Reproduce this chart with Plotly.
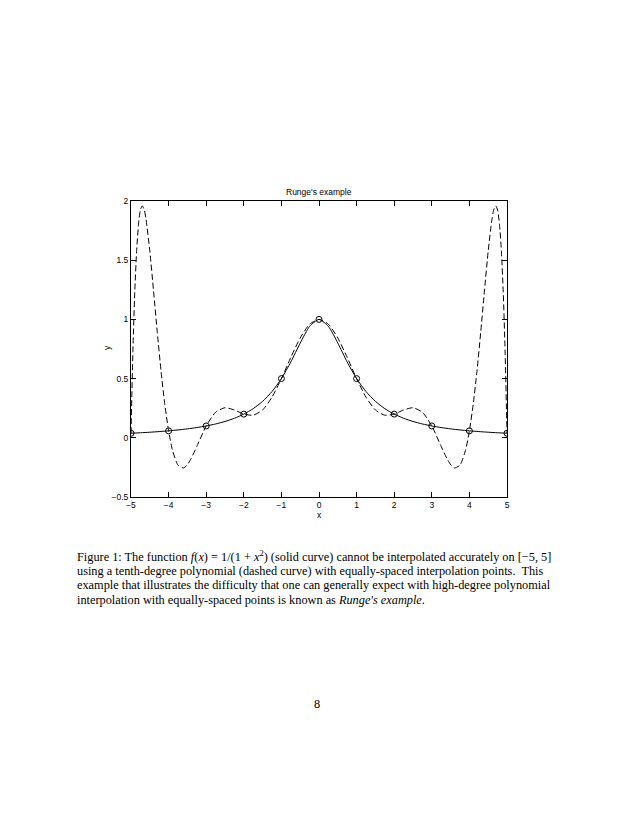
import plotly.graph_objects as go

# values
X_DASH = [-5, -4.95, -4.9, -4.85, -4.8, -4.75, -4.7, -4.65, -4.6, -4.5, -4.4, -4.3, -4.2, -4.1, -4,
          -3.9, -3.75, -3.6, -3.5, -3.4, -3.25, -3, -2.75, -2.5, -2.25, -2, -1.75, -1.5, -1.25, -1,
          -0.75, -0.5, -0.25, 0, 0.25, 0.5, 0.75, 1, 1.25, 1.5, 1.75, 2, 2.25, 2.5, 2.75, 3,
          3.25, 3.4, 3.5, 3.6, 3.75, 3.9, 4, 4.1, 4.2, 4.3, 4.4, 4.5, 4.6, 4.65, 4.7, 4.75, 4.8,
          4.85, 4.9, 4.95, 5]
Y_DASH = [0.038, 0.726, 1.230, 1.581, 1.804, 1.924, 1.959, 1.928, 1.846, 1.579, 1.240, 0.888, 0.560, 0.280, 0.059,
          -0.101, -0.231, -0.255, -0.226, -0.174, -0.073, 0.100, 0.216, 0.254, 0.235, 0.200, 0.191, 0.235, 0.343, 0.500,
          0.679, 0.843, 0.959, 1.000, 0.959, 0.843, 0.679, 0.500, 0.343, 0.235, 0.191, 0.200, 0.235, 0.254, 0.216, 0.100,
          -0.073, -0.174, -0.226, -0.255, -0.231, -0.101, 0.059, 0.280, 0.560, 0.888, 1.240, 1.579, 1.846, 1.928, 1.959, 1.924, 1.804,
          1.581, 1.230, 0.726, 0.038]

X_SOLID = [-5, -4.75, -4.5, -4.25, -4, -3.75, -3.5, -3.25, -3, -2.75, -2.5, -2.25, -2, -1.75, -1.5, -1.25, -1,
           -0.75, -0.5, -0.25, 0, 0.25, 0.5, 0.75, 1, 1.25, 1.5, 1.75, 2, 2.25, 2.5, 2.75, 3, 3.25, 3.5, 3.75,
           4, 4.25, 4.5, 4.75, 5]
Y_SOLID = [0.0385, 0.0424, 0.0471, 0.0525, 0.0588, 0.0664, 0.0755, 0.0865, 0.1, 0.1168, 0.1379, 0.1649, 0.2, 0.2462, 0.3077, 0.3902, 0.5,
           0.64, 0.8, 0.9412, 1.0, 0.9412, 0.8, 0.64, 0.5, 0.3902, 0.3077, 0.2462, 0.2, 0.1649, 0.1379, 0.1168, 0.1, 0.0865, 0.0755, 0.0664,
           0.0588, 0.0525, 0.0471, 0.0424, 0.0385]

X_NODES = [-5, -4, -3, -2, -1, 0, 1, 2, 3, 4, 5]
Y_NODES = [0.0385, 0.0588, 0.1, 0.2, 0.5, 1.0, 0.5, 0.2, 0.1, 0.0588, 0.0385]

CAPTION = [
    "Figure 1: The function <i>f</i>(<i>x</i>) = 1/(1 + <i>x</i><sup>2</sup>) (solid curve) cannot be interpolated accurately on [\u22125, 5]",
    "using a tenth-degree polynomial (dashed curve) with equally-spaced interpolation points.  This",
    "example that illustrates the difficulty that one can generally expect with high-degree polynomial",
    "interpolation with equally-spaced points is known as <i>Runge's example</i>.",
]

W, H = 638, 826
BODY = 8  # page body margin around the plot div
LEFT, RIGHT, TOP, BOTTOM = 131, 507, 201, 497
AX_FONT = dict(family="Liberation Sans, Arial", size=8.5, color="black")
SERIF = dict(family="Liberation Serif, Times New Roman", size=12.3, color="black")


def py(pix):
    """pixel row on the page -> paper y"""
    return (BOTTOM - pix) / (BOTTOM - TOP)


def px(pix):
    return (pix - LEFT) / (RIGHT - LEFT)


fig = go.Figure()
fig.add_trace(go.Scatter(x=X_DASH, y=Y_DASH, mode="lines",
                         line=dict(color="black", width=1, dash="6px,3px", shape="spline", smoothing=0.6)))
fig.add_trace(go.Scatter(x=X_SOLID, y=Y_SOLID, mode="lines",
                         line=dict(color="black", width=1, shape="spline", smoothing=0.6)))
fig.add_trace(go.Scatter(x=X_NODES, y=Y_NODES, mode="markers",
                         marker=dict(symbol="circle-open", size=6, color="black", line=dict(width=1))))

axis = dict(showgrid=False, zeroline=False, showline=True, linecolor="black", linewidth=1,
            mirror="ticks", ticks="inside", ticklen=5, tickcolor="black", tickfont=AX_FONT)
fig.update_xaxes(range=[-5, 5], tickvals=[-5, -4, -3, -2, -1, 0, 1, 2, 3, 4, 5],
                 ticktext=["\u22125", "\u22124", "\u22123", "\u22122", "\u22121", "0", "1", "2", "3", "4", "5"], **axis)
fig.update_yaxes(range=[-0.5, 2], tickvals=[-0.5, 0, 0.5, 1, 1.5, 2],
                 ticktext=["\u22120.5", "0", "0.5", "1", "1.5", "2"], **axis)

ann = [
    dict(text="Runge's example", x=0.5, y=py(192), font=AX_FONT),
    dict(text="x", x=0.5, y=py(515), font=AX_FONT),
    dict(text="y", x=px(107), y=py(348), font=AX_FONT, textangle=-90),
    dict(text="8", x=px(317), y=py(704), font=SERIF),
]
for i, line in enumerate(CAPTION):
    ann.append(dict(text=line, x=px(75), y=py(556 + 14.7 * i), xanchor="left", font=SERIF))
for a in ann:
    a.update(xref="paper", yref="paper", showarrow=False)
    a.setdefault("xanchor", "center")
    a.setdefault("yanchor", "middle")

fig.update_layout(width=W - BODY, height=H - BODY, showlegend=False, plot_bgcolor="white", paper_bgcolor="white",
                  margin=dict(l=LEFT - BODY, r=W - RIGHT, t=TOP - BODY, b=H - BOTTOM),
                  annotations=ann)
fig.write_html("out.html")
